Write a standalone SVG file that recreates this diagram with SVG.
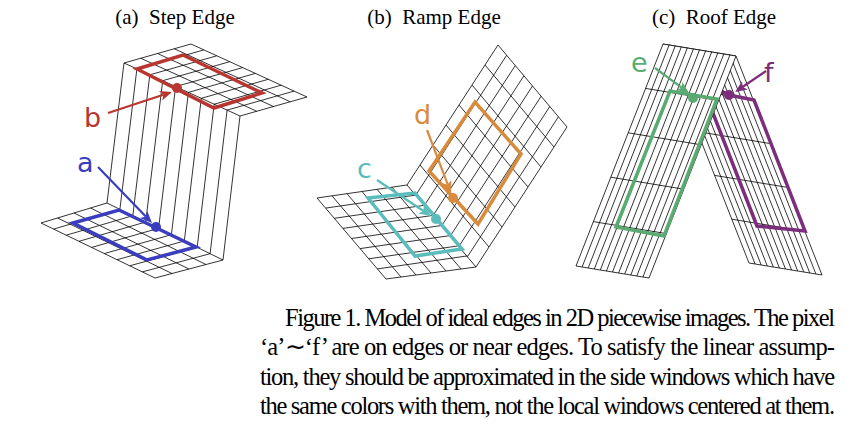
<svg xmlns="http://www.w3.org/2000/svg" width="866" height="440" viewBox="0 0 866 440">
<style>
.g{fill:none;stroke:#000;stroke-width:0.8}
.w{fill:#fff;stroke:#000;stroke-width:0.8}
.t{font-family:"Liberation Serif",serif;font-size:21px;fill:#000;white-space:pre}
.cap{font-family:"Liberation Serif",serif;font-size:24.5px;fill:#000}
.lb{font-family:"DejaVu Sans",sans-serif;font-size:27px}
.win{fill:none;stroke-width:3.5;stroke-linejoin:miter}
.ar{stroke-width:2.2;fill:none}
</style>
<rect width="866" height="440" fill="#fff"/>

<g id="titles">
<text class="t" x="175" y="24" text-anchor="middle" xml:space="preserve">(a)  Step Edge</text>
<text class="t" x="434" y="24" text-anchor="middle" xml:space="preserve">(b)  Ramp Edge</text>
<text class="t" x="714" y="24" text-anchor="middle" xml:space="preserve">(c)  Roof Edge</text>
</g>

<g id="step-surface" class="g">
<path d="M41,223L107,203M53.7,229.1L119.9,209.3M66.3,235.2L132.8,215.7M79,241.3L145.7,222M91.7,247.4L158.6,228.3M104.3,253.6L171.4,234.7M117,259.7L184.3,241M129.7,265.8L197.2,247.3M142.3,271.9L210.1,253.7M155,278L223,260"/>
<path d="M41,223L155,278M57.5,218L172,273.5M74,213L189,269M90.5,208L206,264.5M107,203L223,260"/>
<path d="M107,203L124,63M119.9,209.3L136.9,68.9M132.8,215.7L149.8,74.8M145.7,222L162.7,80.7M158.6,228.3L175.6,86.6M171.4,234.7L188.4,92.4M184.3,241L201.3,98.3M197.2,247.3L214.2,104.2M210.1,253.7L227.1,110.1M223,260L240,116"/>
<path d="M124,63L191,44M136.9,68.9L203.9,49.9M149.8,74.8L216.8,55.8M162.7,80.7L229.7,61.7M175.6,86.6L242.6,67.6M188.4,92.4L255.4,73.4M201.3,98.3L268.3,79.3M214.2,104.2L281.2,85.2M227.1,110.1L294.1,91.1M240,116L307,97"/>
<path d="M124,63L240,116M140.75,58.25L256.75,111.25M157.5,53.5L273.5,106.5M174.25,48.75L290.25,101.75M191,44L307,97"/>
</g>

<g id="ramp-surface" class="g">
<path d="M317,198L407,185M325.6,208.1L415.6,195.1M334.3,218.3L424.3,205.3M342.9,228.4L432.9,215.4M351.5,238.5L441.5,225.5M360.1,248.6L450.1,235.6M368.8,258.8L458.8,245.8M377.4,268.9L467.4,255.9M386,279L476,267"/>
<path d="M317,198L386,279M332,195.8L401,277M347,193.7L416,275M362,191.5L431,273M377,189.3L446,271M392,187.2L461,269M407,185L476,267"/>
<path d="M407,185L498,45M415.6,195.3L506.6,55.3M424.3,205.5L515.3,65.5M432.9,215.8L523.9,75.8M441.5,226L532.5,86M450.1,236.3L541.1,96.3M458.8,246.5L549.8,106.5M467.4,256.8L558.4,116.8M476,267L567,127"/>
<path d="M420,165L489,247M433,145L502,227M446,125L515,207M459,105L528,187M472,85L541,167M485,65L554,147M498,45L567,127"/>
</g>

<g id="roof-right" class="g">
<polygon class="w" points="663,44 736,56 822,275 749,263"/>
<path d="M669.1,45L755.1,264M675.2,46L761.2,265M681.3,47L767.3,266M687.3,48L773.3,267M693.4,49L779.4,268M699.5,50L785.5,269M705.6,51L791.6,270M711.7,52L797.7,271M717.8,53L803.8,272M723.8,54L809.8,273M729.9,55L815.9,274"/>
<path d="M680.2,87.8L753.2,99.8M697.4,131.6L770.4,143.6M714.6,175.4L787.6,187.4M731.8,219.2L804.8,231.2"/>
</g>

<g id="node-f">
<polygon class="win" stroke="#7c2d7b" points="729,95 754,100 805,231 757,226 700,80"/>
<circle cx="729" cy="95" r="5" fill="#7c2d7b"/>
</g>

<g id="roof-left" class="g">
<polygon class="w" points="663,44 736,56 649,278 576,266"/>
<path d="M669.1,45L582.1,267M675.2,46L588.2,268M681.3,47L594.3,269M687.3,48L600.3,270M693.4,49L606.4,271M699.5,50L612.5,272M705.6,51L618.6,273M711.7,52L624.7,274M717.8,53L630.8,275M723.8,54L636.8,276M729.9,55L642.9,277"/>
<path d="M645.6,88.4L718.6,100.4M628.2,132.8L701.2,144.8M610.8,177.2L683.8,189.2M593.4,221.6L666.4,233.6"/>
</g>

<g id="node-a">
<polygon class="win" stroke="#3a3dbf" points="73,223 119,210 196,247 147,260"/>
<circle cx="156" cy="227" r="5" fill="#3a3dbf"/>
<text class="lb" x="77" y="172" fill="#3a3dbf">a</text>
</g>
<g id="node-b">
<polygon class="win" stroke="#b83530" points="137,69 183,55 262,93 214,108"/>
<circle cx="177" cy="88" r="5" fill="#b83530"/>
<text class="lb" x="84" y="127" fill="#b83530">b</text>
</g>
<g id="node-c">
<polygon class="win" stroke="#5bbcbc" points="368,198 415,193 462,249 415,256"/>
<circle cx="436" cy="219" r="5" fill="#5bbcbc"/>
<text class="lb" x="357" y="178" fill="#5bbcbc">c</text>
</g>
<g id="node-d">
<polygon class="win" stroke="#d98b3d" points="429,171 475,102 521,154 478,224"/>
<circle cx="453" cy="198" r="5" fill="#d98b3d"/>
<text class="lb" x="414" y="124" fill="#d98b3d">d</text>
</g>
<g id="node-e">
<polygon class="win" stroke="#5aab72" points="670,91 717,99 664,236 616,227"/>
<circle cx="693" cy="98" r="5" fill="#5aab72"/>
<text class="lb" x="631" y="72" fill="#5aab72">e</text>
</g>
<g id="node-f-label">
<text class="lb" x="764" y="82" fill="#7c2d7b">f</text>
</g>

<g id="connectors">
<line class="ar" stroke="#3a3dbf" x1="98" y1="167" x2="145.8" y2="216.5"/>
<polygon fill="#3a3dbf" points="152,223 140.1,217.9 145.8,216.5 147.3,210.9"/>
<line class="ar" stroke="#b83530" x1="108" y1="113" x2="163.4" y2="94.8"/>
<polygon fill="#b83530" points="172,92 162.2,100.5 163.4,94.8 159,90.9"/>
<line class="ar" stroke="#5bbcbc" x1="377" y1="180" x2="423.5" y2="211"/>
<polygon fill="#5bbcbc" points="431,216 418.2,213.5 423.5,211 423.8,205.1"/>
<line class="ar" stroke="#d98b3d" x1="427" y1="130" x2="447.8" y2="184.6"/>
<polygon fill="#d98b3d" points="451,193 442,183.6 447.8,184.6 451.4,180"/>
<line class="ar" stroke="#5aab72" x1="655" y1="68" x2="681.7" y2="87.7"/>
<polygon fill="#5aab72" points="689,93 676.3,89.9 681.7,87.7 682.3,81.9"/>
<line class="ar" stroke="#7c2d7b" x1="766" y1="71" x2="742.5" y2="87"/>
<polygon fill="#7c2d7b" points="735,92 742.1,81.2 742.5,87 747.7,89.4"/>
</g>

<g id="caption">
<text class="cap" x="285" y="326" textLength="550" lengthAdjust="spacing">Figure 1. Model of ideal edges in 2D piecewise images. The pixel</text>
<text class="cap" x="260" y="355" textLength="575" lengthAdjust="spacing">‘a’∼‘f’ are on edges or near edges. To satisfy the linear assump-</text>
<text class="cap" x="260" y="385" textLength="575" lengthAdjust="spacing">tion, they should be approximated in the side windows which have</text>
<text class="cap" x="260" y="414" textLength="575" lengthAdjust="spacing">the same colors with them, not the local windows centered at them.</text>
</g>
</svg>
